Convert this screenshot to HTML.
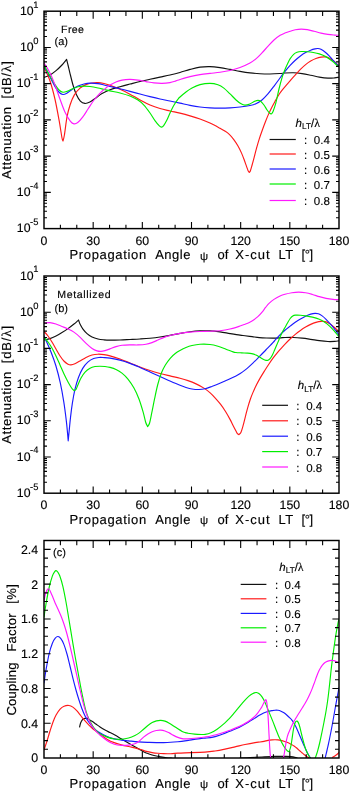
<!DOCTYPE html>
<html lang="en"><head><meta charset="utf-8"><title>Attenuation and coupling factor vs propagation angle</title>
<style>html,body{margin:0;padding:0;background:#fff}body{width:350px;height:792px;overflow:hidden}svg{display:block}text{font-family:"Liberation Sans",Arial,sans-serif;fill:#000;stroke:#000;stroke-width:0.14px;text-rendering:geometricPrecision}</style></head><body>
<svg width="350" height="792" viewBox="0 0 350 792">
<rect width="350" height="792" fill="#fff"/>
<defs>
<clipPath id="ca"><rect x="44" y="11.2" width="295" height="217.4"/></clipPath>
<clipPath id="cb"><rect x="44" y="276" width="295" height="217.2"/></clipPath>
<clipPath id="cc"><rect x="44" y="540.5" width="295" height="217.5"/></clipPath>
</defs>
<g id="plot-a">
<g clip-path="url(#ca)" fill="none" stroke-width="1.15" stroke-linejoin="round" stroke-linecap="round">
<path stroke="#111111" d="M44 77.4C45 77 47.99 76.12 50 75C52.01 73.88 54.05 72.35 56.05 70.68C58.04 69.02 60.38 66.67 61.97 64.99C63.56 63.31 64.83 61.53 65.6 60.6C66.37 59.67 66.43 59.6 66.6 59.4M66.6 59.4C66.83 60.33 67.45 62.73 68 65C68.55 67.27 69.09 69.69 69.92 73.02C70.75 76.36 71.96 81.53 72.99 85.02C74.02 88.51 74.86 91.31 76.09 93.99C77.32 96.66 78.88 99.49 80.35 101.07C81.81 102.64 83.28 103.27 84.88 103.44C86.47 103.61 88.07 102.98 89.91 102.06C91.76 101.14 93.91 99.32 95.93 97.91C97.96 96.49 99.68 94.94 102.04 93.58C104.4 92.21 107.12 90.85 110.1 89.72C113.08 88.58 116.6 87.69 119.92 86.75C123.24 85.8 126.67 84.93 130.02 84.05C133.37 83.18 136.69 82.28 140.02 81.48C143.34 80.69 146.64 80 149.97 79.28C153.31 78.55 156.69 77.83 160.02 77.11C163.36 76.39 166.67 75.75 170 74.97C173.32 74.2 176.62 73.39 179.96 72.47C183.3 71.54 186.68 70.31 190.03 69.42C193.37 68.53 196.7 67.6 200.03 67.13C203.35 66.67 206.65 66.53 209.98 66.61C213.31 66.68 216.65 67.13 219.99 67.6C223.33 68.07 226.66 68.77 230 69.4C233.33 70.03 236.67 70.82 240 71.4C243.34 71.98 246.68 72.52 250.01 72.9C253.34 73.28 256.66 73.53 259.99 73.7C263.33 73.88 266.67 73.99 270 73.95C273.33 73.91 277.48 73.65 279.98 73.48C282.49 73.32 282.75 73.1 285.02 72.98C287.29 72.85 290.76 72.65 293.61 72.75C296.45 72.85 299.24 73.17 302.09 73.58C304.93 73.99 307.82 74.62 310.69 75.21C313.57 75.79 316.45 76.59 319.32 77.08C322.18 77.57 325.33 78.02 327.9 78.16C330.46 78.3 332.93 78.04 334.7 77.9C336.47 77.76 337.87 77.4 338.5 77.3"/>
<path stroke="#ff1a1a" d="M44 67C45 69.33 48.18 75.67 50 81C51.82 86.33 53.39 92.34 54.93 99C56.46 105.66 58.03 114.45 59.21 120.95C60.38 127.45 61.37 134.66 62 138C62.63 141.34 62.83 140.5 63 141M63 141C63.23 140 63.73 139 64.4 135C65.07 131 66.07 121.98 67.01 116.98C67.95 111.99 68.86 108.66 70.06 105.02C71.26 101.38 72.56 97.95 74.22 95.14C75.88 92.33 78.05 89.9 80.01 88.15C81.96 86.4 83.95 85.48 85.94 84.62C87.94 83.76 89.97 83.32 91.98 82.98C93.99 82.65 96 82.52 98 82.61C100 82.71 101.97 83.07 103.97 83.53C105.97 84 107.32 84.44 110 85.41C112.68 86.38 116.72 87.88 120.04 89.34C123.35 90.8 126.56 92.42 129.9 94.18C133.24 95.94 136.71 98.1 140.07 99.89C143.42 101.69 146.7 103.52 150.02 104.96C153.34 106.4 156.67 107.55 160 108.55C163.33 109.55 166.68 110.19 170 110.96C173.33 111.73 176.62 112.35 179.96 113.16C183.3 113.98 186.7 114.89 190.04 115.87C193.38 116.85 196.68 117.83 200 119.03C203.32 120.23 206.59 121.54 209.95 123.09C213.3 124.64 217.65 127.01 220.13 128.33C222.61 129.65 223.3 130.01 224.83 131.01C226.35 132.01 227.82 132.92 229.29 134.3C230.75 135.68 232.19 137.39 233.62 139.29C235.05 141.19 236.55 143.46 237.85 145.72C239.16 147.99 240.38 150.49 241.44 152.87C242.51 155.25 243.42 157.76 244.27 160.01C245.11 162.26 245.87 164.58 246.51 166.36C247.15 168.14 247.64 169.69 248.1 170.7C248.56 171.71 249.1 172.12 249.3 172.4M249.3 172.4C249.48 172.12 249.93 171.93 250.4 170.7C250.87 169.47 251.46 167.27 252.1 165C252.74 162.73 253.51 159.82 254.23 157.08C254.95 154.35 255.56 151.68 256.42 148.6C257.27 145.52 258.37 141.73 259.36 138.62C260.35 135.52 261.35 132.74 262.35 129.97C263.34 127.2 264.37 124.49 265.33 122.02C266.29 119.54 267.08 117.51 268.12 115.13C269.17 112.75 270.46 110.02 271.6 107.73C272.74 105.44 273.83 103.46 274.97 101.41C276.1 99.37 277.23 97.3 278.4 95.46C279.57 93.61 279.89 92.91 281.97 90.32C284.05 87.73 288.66 82.47 290.89 79.91C293.12 77.34 293.77 76.7 295.35 74.94C296.94 73.19 298.68 71.1 300.39 69.38C302.1 67.67 303.91 66.01 305.63 64.63C307.35 63.26 308.99 62.13 310.7 61.12C312.41 60.11 314.17 59.24 315.89 58.57C317.61 57.9 319.45 57.35 321.02 57.08C322.59 56.8 323.88 56.73 325.31 56.92C326.73 57.11 328.11 57.53 329.54 58.22C330.97 58.92 332.41 59.9 333.9 61.1C335.39 62.3 337.73 64.68 338.5 65.4"/>
<path stroke="#1a1aff" d="M44 66C45 67.83 48.13 73.52 50 77C51.87 80.48 53.66 84.29 55.21 86.88C56.77 89.47 58.04 91.26 59.33 92.53C60.62 93.81 61.7 94.43 62.94 94.54C64.19 94.65 65.29 94.06 66.81 93.21C68.33 92.37 70.2 90.67 72.06 89.47C73.93 88.27 76.02 86.92 78.01 86.02C80 85.11 82.01 84.49 84.01 84.02C86.01 83.55 87.67 83.25 90 83.19C92.33 83.13 95.64 83.35 97.98 83.65C100.31 83.96 101.98 84.54 103.99 85.01C106 85.47 107.38 85.82 110.04 86.44C112.7 87.06 116.64 87.92 119.97 88.74C123.3 89.55 126.68 90.44 130.02 91.32C133.36 92.2 136.66 93.15 139.99 94.03C143.32 94.91 146.66 95.78 150 96.6C153.34 97.42 156.68 98.23 160.01 98.96C163.34 99.69 166.67 100.31 170 101C173.33 101.69 176.64 102.39 179.98 103.11C183.31 103.83 186.68 104.67 190.02 105.32C193.36 105.96 196.67 106.55 200 106.97C203.33 107.39 206.66 107.66 210 107.86C213.33 108.05 216.67 108.14 220 108.14C223.33 108.14 226.67 108.05 230 107.86C233.34 107.66 236.66 107.36 240 106.96C243.33 106.56 247.37 106 250.02 105.46C252.67 104.92 253.91 104.64 255.9 103.72C257.89 102.81 259.97 101.61 261.97 99.98C263.98 98.34 265.89 96.26 267.91 93.94C269.92 91.62 272.06 88.72 274.07 86.06C276.09 83.41 278.16 80.43 279.99 77.99C281.81 75.55 283.34 73.51 285.03 71.42C286.72 69.32 288.41 67.28 290.12 65.42C291.83 63.57 293.57 61.85 295.28 60.28C297 58.72 298.7 57.3 300.42 56.02C302.14 54.74 303.89 53.59 305.6 52.62C307.32 51.65 309.12 50.82 310.69 50.2C312.26 49.57 313.8 49.15 315.01 48.87C316.22 48.59 316.95 48.45 317.93 48.53C318.92 48.61 319.7 48.72 320.92 49.33C322.15 49.94 323.85 51.04 325.29 52.2C326.73 53.37 328.13 54.84 329.56 56.33C331 57.81 332.41 59.5 333.9 61.1C335.39 62.7 337.73 65.1 338.5 65.9"/>
<path stroke="#00ee00" d="M44 65C45 66.83 48.14 72.68 50 76C51.86 79.32 53.59 82.54 55.14 84.91C56.69 87.28 57.99 88.99 59.29 90.21C60.58 91.43 61.66 92.01 62.94 92.2C64.21 92.4 65.42 91.92 66.93 91.37C68.44 90.83 70.14 89.7 72 88.92C73.85 88.15 76.05 87.19 78.05 86.71C80.04 86.24 81.99 86.09 83.98 86.06C85.97 86.04 87.66 86.23 90 86.55C92.33 86.88 95.67 87.52 98 88C100.33 88.48 101.98 88.98 103.99 89.45C105.99 89.92 107.37 90.23 110.04 90.82C112.72 91.41 116.7 92.12 120.02 92.99C123.35 93.86 127 94.87 129.99 96.05C132.98 97.23 135.64 98.56 137.96 100.07C140.28 101.57 141.89 102.92 143.9 105.07C145.91 107.22 148.14 110.32 150.02 112.96C151.89 115.59 153.59 118.73 155.15 120.9C156.7 123.07 158.27 124.93 159.34 125.96C160.41 126.99 160.84 127.14 161.55 127.08C162.27 127.01 162.74 126.76 163.64 125.57C164.53 124.39 165.84 122.06 166.91 119.96C167.97 117.87 168.82 115.49 170.01 113C171.2 110.51 172.7 107.35 174.05 105.03C175.39 102.71 177.09 100.42 178.08 99.08C179.07 97.74 178.69 98.19 180.01 97C181.32 95.81 183.98 93.44 185.98 91.93C187.98 90.43 189.69 89.18 192.03 87.96C194.38 86.75 197.05 85.4 200.04 84.63C203.03 83.86 207.01 83.33 209.99 83.35C212.97 83.37 215.61 83.97 217.92 84.76C220.23 85.55 221.84 86.56 223.87 88.09C225.89 89.61 228.03 91.94 230.06 93.91C232.09 95.89 234.22 98.3 236.06 99.95C237.9 101.6 239.62 102.95 241.11 103.82C242.6 104.69 243.52 105.12 244.98 105.15C246.44 105.17 248.35 104.57 249.88 103.97C251.4 103.37 252.78 102.16 254.13 101.55C255.49 100.94 256.88 100.33 258 100.32C259.13 100.32 259.88 100.72 260.87 101.5C261.86 102.28 262.91 103.59 263.95 105C264.98 106.41 266.11 108.57 267.09 109.96C268.06 111.34 269.04 112.67 269.78 113.29C270.53 113.92 271 113.99 271.55 113.69C272.09 113.39 272.33 113.29 273.05 111.5C273.77 109.72 274.87 106.72 275.86 102.97C276.85 99.21 277.95 93.31 279 88.99C280.06 84.68 281.22 80.29 282.2 77.07C283.18 73.85 284 71.9 284.9 69.67C285.79 67.44 286.7 65.52 287.58 63.68C288.46 61.84 289.17 60.19 290.19 58.64C291.2 57.08 292.5 55.41 293.64 54.36C294.79 53.3 295.76 52.81 297.04 52.33C298.31 51.86 299.58 51.63 301.29 51.53C303 51.42 305.29 51.54 307.29 51.7C309.3 51.87 311.31 52.16 313.32 52.53C315.32 52.9 317.32 53.28 319.31 53.92C321.3 54.56 323.4 55.4 325.25 56.37C327.1 57.33 328.86 58.59 330.43 59.73C332.01 60.87 333.36 62.05 334.7 63.2C336.04 64.35 337.87 66.03 338.5 66.6"/>
<path stroke="#ff19ff" d="M44 63C45 64.67 48.17 69.33 50 73C51.83 76.67 53.34 80.65 54.99 84.99C56.65 89.33 58.23 94.38 59.95 99.03C61.66 103.68 63.53 109.16 65.29 112.87C67.04 116.58 69.02 119.48 70.47 121.3C71.92 123.13 72.77 123.63 73.99 123.84C75.2 124.05 76.27 123.71 77.74 122.56C79.22 121.41 81.14 119.17 82.85 116.91C84.56 114.65 86.15 111.82 88.01 109C89.88 106.19 92.04 102.67 94.04 100.02C96.05 97.37 98.07 95.09 100.05 93.08C102.03 91.06 104.27 89.27 105.93 87.93C107.6 86.6 108.38 86.07 110.05 85.07C111.73 84.07 114 82.76 116 81.93C117.99 81.1 119.7 80.51 122.03 80.1C124.37 79.68 127.33 79.42 129.98 79.44C132.64 79.45 135.32 79.82 137.99 80.19C140.66 80.55 143.33 81.17 146 81.63C148.67 82.09 151.35 82.65 154.02 82.94C156.68 83.24 159.34 83.45 162 83.39C164.66 83.33 167.65 82.99 169.98 82.58C172.31 82.16 174.29 81.43 175.96 80.91C177.64 80.39 177.69 80.18 180.03 79.46C182.37 78.74 186.67 77.39 190 76.59C193.33 75.79 196.67 75.19 200 74.66C203.34 74.12 206.66 73.77 209.99 73.37C213.33 72.97 216.69 72.74 220.02 72.25C223.35 71.77 226.65 71.28 229.98 70.48C233.32 69.69 236.69 68.74 240.02 67.48C243.36 66.23 247.31 64.36 249.96 62.93C252.61 61.51 253.92 60.58 255.92 58.92C257.92 57.26 259.93 55.12 261.95 52.98C263.98 50.83 266.07 48.23 268.07 46.06C270.08 43.89 271.96 41.74 273.98 39.95C275.99 38.16 278.35 36.47 280.16 35.33C281.97 34.18 283.19 33.77 284.85 33.08C286.52 32.4 288.41 31.77 290.15 31.22C291.89 30.66 293.44 30.1 295.3 29.75C297.16 29.41 299.31 29.16 301.31 29.15C303.31 29.14 305.15 29.31 307.28 29.67C309.41 30.03 311.8 30.73 314.09 31.31C316.38 31.89 318.72 32.61 321.02 33.13C323.32 33.64 325.61 34.09 327.89 34.42C330.17 34.75 332.93 34.95 334.7 35.1C336.47 35.25 337.87 35.27 338.5 35.3"/>
</g>
<rect x="44" y="11.2" width="295" height="217.4" fill="none" stroke="#000" stroke-width="1.45"/><path d="M60.39 11.2v4.7M60.39 228.6v-3.8M76.78 11.2v4.7M76.78 228.6v-3.8M93.17 11.2v7.6M93.17 228.6v-6.7M109.56 11.2v4.7M109.56 228.6v-3.8M125.94 11.2v4.7M125.94 228.6v-3.8M142.33 11.2v7.6M142.33 228.6v-6.7M158.72 11.2v4.7M158.72 228.6v-3.8M175.11 11.2v4.7M175.11 228.6v-3.8M191.5 11.2v7.6M191.5 228.6v-6.7M207.89 11.2v4.7M207.89 228.6v-3.8M224.28 11.2v4.7M224.28 228.6v-3.8M240.67 11.2v7.6M240.67 228.6v-6.7M257.06 11.2v4.7M257.06 228.6v-3.8M273.44 11.2v4.7M273.44 228.6v-3.8M289.83 11.2v7.6M289.83 228.6v-6.7M306.22 11.2v4.7M306.22 228.6v-3.8M322.61 11.2v4.7M322.61 228.6v-3.8M44 36.53h3.0M339 36.53h-3.0M44 30.15h3.0M339 30.15h-3.0M44 25.62h3.0M339 25.62h-3.0M44 22.11h3.0M339 22.11h-3.0M44 19.24h3.0M339 19.24h-3.0M44 16.81h3.0M339 16.81h-3.0M44 14.71h3.0M339 14.71h-3.0M44 12.86h3.0M339 12.86h-3.0M44 47.43h6.8M339 47.43h-6.8M44 72.76h3.0M339 72.76h-3.0M44 66.38h3.0M339 66.38h-3.0M44 61.85h3.0M339 61.85h-3.0M44 58.34h3.0M339 58.34h-3.0M44 55.47h3.0M339 55.47h-3.0M44 53.05h3.0M339 53.05h-3.0M44 50.94h3.0M339 50.94h-3.0M44 49.09h3.0M339 49.09h-3.0M44 83.67h6.8M339 83.67h-6.8M44 108.99h3.0M339 108.99h-3.0M44 102.61h3.0M339 102.61h-3.0M44 98.09h3.0M339 98.09h-3.0M44 94.57h3.0M339 94.57h-3.0M44 91.7h3.0M339 91.7h-3.0M44 89.28h3.0M339 89.28h-3.0M44 87.18h3.0M339 87.18h-3.0M44 85.32h3.0M339 85.32h-3.0M44 119.9h6.8M339 119.9h-6.8M44 145.23h3.0M339 145.23h-3.0M44 138.85h3.0M339 138.85h-3.0M44 134.32h3.0M339 134.32h-3.0M44 130.81h3.0M339 130.81h-3.0M44 127.94h3.0M339 127.94h-3.0M44 125.51h3.0M339 125.51h-3.0M44 123.41h3.0M339 123.41h-3.0M44 121.56h3.0M339 121.56h-3.0M44 156.13h6.8M339 156.13h-6.8M44 181.46h3.0M339 181.46h-3.0M44 175.08h3.0M339 175.08h-3.0M44 170.55h3.0M339 170.55h-3.0M44 167.04h3.0M339 167.04h-3.0M44 164.17h3.0M339 164.17h-3.0M44 161.75h3.0M339 161.75h-3.0M44 159.64h3.0M339 159.64h-3.0M44 157.79h3.0M339 157.79h-3.0M44 192.37h6.8M339 192.37h-6.8M44 217.69h3.0M339 217.69h-3.0M44 211.31h3.0M339 211.31h-3.0M44 206.79h3.0M339 206.79h-3.0M44 203.27h3.0M339 203.27h-3.0M44 200.4h3.0M339 200.4h-3.0M44 197.98h3.0M339 197.98h-3.0M44 195.88h3.0M339 195.88h-3.0M44 194.02h3.0M339 194.02h-3.0" stroke="#000" stroke-width="1.1" fill="none"/>
<text x="38.4" y="14.7" font-size="12.3" text-anchor="end">10<tspan font-size="9.4" dx="-0.5" dy="-7.2">1</tspan></text>
<text x="38.4" y="50.93" font-size="12.3" text-anchor="end">10<tspan font-size="9.4" dx="-0.5" dy="-7.2">0</tspan></text>
<text x="38.4" y="87.17" font-size="12.3" text-anchor="end">10<tspan font-size="9.4" dx="-0.5" dy="-7.2">-1</tspan></text>
<text x="38.4" y="123.4" font-size="12.3" text-anchor="end">10<tspan font-size="9.4" dx="-0.5" dy="-7.2">-2</tspan></text>
<text x="38.4" y="159.63" font-size="12.3" text-anchor="end">10<tspan font-size="9.4" dx="-0.5" dy="-7.2">-3</tspan></text>
<text x="38.4" y="195.87" font-size="12.3" text-anchor="end">10<tspan font-size="9.4" dx="-0.5" dy="-7.2">-4</tspan></text>
<text x="38.4" y="232.1" font-size="12.3" text-anchor="end">10<tspan font-size="9.4" dx="-0.5" dy="-7.2">-5</tspan></text>
<text x="44" y="244.8" font-size="12.3" text-anchor="middle">0</text>
<text x="93.17" y="244.8" font-size="12.3" text-anchor="middle">30</text>
<text x="142.33" y="244.8" font-size="12.3" text-anchor="middle">60</text>
<text x="191.5" y="244.8" font-size="12.3" text-anchor="middle">90</text>
<text x="240.67" y="244.8" font-size="12.3" text-anchor="middle">120</text>
<text x="289.83" y="244.8" font-size="12.3" text-anchor="middle">150</text>
<text x="339" y="244.8" font-size="12.3" text-anchor="middle">180</text>
<text x="69.4" y="259.2" font-size="13" textLength="76.8" lengthAdjust="spacing">Propagation</text>
<text x="155.2" y="259.2" font-size="13" textLength="35.2" lengthAdjust="spacing">Angle</text>
<text x="217.6" y="259.2" font-size="13" textLength="10.8" lengthAdjust="spacing">of</text>
<text x="235.2" y="259.2" font-size="13" textLength="34.4" lengthAdjust="spacing">X-cut</text>
<text x="278.4" y="259.2" font-size="13" textLength="14.8" lengthAdjust="spacing">LT</text>
<text x="301.6" y="259.2" font-size="13" textLength="11.4" lengthAdjust="spacing">[°]</text>
<text x="199.9" y="259.8" font-size="11.4" stroke="none" font-family="'Liberation Serif','DejaVu Serif',serif">ψ</text>
<text transform="translate(11.4 179) rotate(-90)" font-size="13" textLength="72" lengthAdjust="spacing">Attenuation</text><text transform="translate(11.4 98.4) rotate(-90)" font-size="13" textLength="37.4" lengthAdjust="spacing">[dB/<tspan font-family="'Liberation Serif','DejaVu Serif',serif" font-size="13.5">λ</tspan>]</text>
<text x="61" y="33.2" font-size="10.6" textLength="23" lengthAdjust="spacing">Free</text>
<text x="54.6" y="45.1" font-size="11">(a)</text>
<path d="M269.6 139.5H295.8" stroke="#111111" stroke-width="1.2" fill="none"/>
<text x="304" y="144" font-size="11.5">:</text>
<text x="313.8" y="144" font-size="11.5">0.4</text>
<path d="M269.6 154H295.8" stroke="#ff1a1a" stroke-width="1.2" fill="none"/>
<text x="304" y="158.5" font-size="11.5">:</text>
<text x="313.8" y="158.5" font-size="11.5">0.5</text>
<path d="M269.6 169H295.8" stroke="#1a1aff" stroke-width="1.2" fill="none"/>
<text x="304" y="173.5" font-size="11.5">:</text>
<text x="313.8" y="173.5" font-size="11.5">0.6</text>
<path d="M269.6 184H295.8" stroke="#00ee00" stroke-width="1.2" fill="none"/>
<text x="304" y="188.5" font-size="11.5">:</text>
<text x="313.8" y="188.5" font-size="11.5">0.7</text>
<path d="M269.6 200.5H295.8" stroke="#ff19ff" stroke-width="1.2" fill="none"/>
<text x="304" y="205" font-size="11.5">:</text>
<text x="313.8" y="205" font-size="11.5">0.8</text>
<text x="295.6" y="126.6" font-size="11.5"><tspan font-style="italic">h</tspan><tspan font-size="8.2" dy="2.4">LT</tspan><tspan dy="-2.4">/</tspan><tspan font-size="12" font-family="'Liberation Serif','DejaVu Serif',serif">λ</tspan></text>
</g>
<g id="plot-b">
<g clip-path="url(#cb)" fill="none" stroke-width="1.15" stroke-linejoin="round" stroke-linecap="round">
<path stroke="#111111" d="M44 340C45 339.77 48 339.27 50 338.6C52 337.93 54 337.01 56 336.01C58 335.01 60 333.84 62 332.61C64 331.37 66 330.04 68 328.6C70 327.17 72.34 325.34 74 324.01C75.67 322.68 77.23 321.23 78 320.6C78.77 319.97 78.5 320.27 78.6 320.2M78.6 320.2C78.83 320.83 79.27 322.53 80 324C80.73 325.47 81.8 327.45 82.97 329.05C84.14 330.65 85.53 332.27 87.04 333.59C88.54 334.91 90.19 336.05 92.01 336.95C93.84 337.85 95.98 338.5 97.98 338.98C99.98 339.46 101.99 339.63 104 339.83C106 340.02 107.34 340.11 110 340.14C112.67 340.16 116.66 340.07 120 339.96C123.33 339.85 126.67 339.65 130 339.49C133.34 339.32 136.67 339.17 140 338.96C143.33 338.74 146.67 338.53 150 338.2C153.33 337.87 156.67 337.48 160 337C163.33 336.52 166.65 335.94 169.99 335.34C173.32 334.75 176.67 334.03 180.01 333.44C183.35 332.85 186.67 332.22 190 331.79C193.34 331.35 196.67 330.99 200.01 330.83C203.34 330.67 206.67 330.65 210 330.82C213.33 330.99 216.65 331.39 219.99 331.84C223.32 332.3 226.67 333 230.01 333.56C233.35 334.11 237.53 334.8 240.02 335.16C242.52 335.52 242.95 335.46 244.97 335.71C246.99 335.96 249.77 336.34 252.15 336.64C254.54 336.95 256.91 337.33 259.29 337.56C261.67 337.79 264.05 337.91 266.43 338.01C268.81 338.11 271.2 338.2 273.57 338.17C275.95 338.14 278.79 337.93 280.7 337.82C282.6 337.71 282.87 337.55 285.02 337.49C287.17 337.43 290.76 337.34 293.6 337.45C296.45 337.56 299.25 337.83 302.09 338.14C304.94 338.45 307.83 338.9 310.7 339.32C313.56 339.74 316.44 340.31 319.31 340.68C322.18 341.04 325.33 341.39 327.9 341.51C330.46 341.63 332.93 341.5 334.7 341.4C336.47 341.3 337.87 340.98 338.5 340.9"/>
<path stroke="#ff1a1a" d="M44 331.4C44.67 332.17 46.67 334.23 48 336C49.33 337.77 50.64 339.84 51.97 342.01C53.3 344.18 54.64 346.68 55.98 349.01C57.33 351.34 58.7 353.94 60.05 355.98C61.41 358.02 62.79 359.89 64.12 361.26C65.45 362.63 66.89 363.61 68.04 364.21C69.18 364.81 69.86 364.94 71 364.87C72.15 364.8 73.41 364.43 74.9 363.78C76.4 363.13 78.12 362.03 79.98 360.97C81.83 359.9 84.03 358.4 86.03 357.41C88.04 356.43 90.03 355.61 92.02 355.07C94.01 354.54 95.99 354.29 97.98 354.21C99.98 354.14 102 354.36 104 354.63C106 354.91 107.32 355.13 109.99 355.87C112.65 356.61 116.64 357.87 119.98 359.06C123.31 360.24 126.67 361.65 130.01 362.97C133.35 364.3 136.67 365.74 140 367C143.34 368.26 146.69 369.46 150.02 370.53C153.35 371.61 156.65 372.55 159.98 373.45C163.32 374.35 166.69 375.12 170.02 375.92C173.35 376.73 176.99 377.49 179.98 378.28C182.98 379.07 185.3 379.72 187.98 380.66C190.66 381.59 193.4 382.65 196.06 383.89C198.72 385.14 201.57 386.64 203.92 388.13C206.27 389.63 208.27 391.21 210.16 392.87C212.05 394.52 213.56 396.17 215.28 398.06C217 399.95 218.75 401.98 220.46 404.21C222.17 406.44 223.95 408.97 225.52 411.46C227.09 413.94 228.59 416.7 229.89 419.12C231.19 421.54 232.28 423.94 233.32 425.98C234.36 428.02 235.44 430.08 236.12 431.35C236.81 432.61 236.97 433.03 237.43 433.57C237.88 434.11 238.62 434.4 238.86 434.57M238.86 434.57C239.21 434.17 240.3 433.62 241 432.14C241.7 430.66 242.37 428.2 243.08 425.7C243.79 423.2 244.54 419.99 245.27 417.14C246 414.28 246.6 411.55 247.45 408.57C248.29 405.6 249.38 402.04 250.32 399.3C251.27 396.56 252.03 394.63 253.11 392.13C254.18 389.63 255.56 386.69 256.76 384.31C257.95 381.93 258.95 380.1 260.25 377.84C261.56 375.58 263.18 373 264.6 370.73C266.02 368.47 267.36 366.38 268.8 364.24C270.23 362.11 271.77 359.85 273.2 357.9C274.64 355.96 276.01 354.25 277.42 352.57C278.83 350.89 280.4 349.22 281.66 347.81C282.93 346.4 283.62 345.59 285.03 344.12C286.43 342.65 288.39 340.62 290.1 339C291.81 337.37 293.57 335.82 295.29 334.39C297.01 332.96 298.69 331.64 300.41 330.41C302.12 329.18 303.89 328.02 305.61 327.01C307.32 326.01 308.98 325.15 310.69 324.38C312.41 323.62 314.19 322.91 315.91 322.4C317.63 321.89 319.46 321.45 321.02 321.32C322.58 321.2 323.84 321.26 325.26 321.64C326.69 322.03 328.12 322.74 329.56 323.63C331 324.52 332.41 325.72 333.9 327C335.39 328.28 337.73 330.58 338.5 331.3"/>
<path stroke="#1a1aff" d="M44 336C44.33 336.75 44.83 337.84 46 340.5C47.17 343.16 49.35 347.77 51 351.98C52.64 356.19 54.33 360.59 55.88 365.75C57.43 370.9 58.99 376.9 60.3 382.89C61.61 388.88 62.75 395.4 63.74 401.69C64.74 407.97 65.67 415.45 66.29 420.6C66.92 425.75 67.18 429.23 67.5 432.6C67.82 435.97 68.08 439.43 68.2 440.8M68.2 440.8C68.33 439.43 68.61 436.55 69 432.6C69.39 428.65 69.99 421.96 70.54 417.09C71.1 412.22 71.61 407.97 72.34 403.4C73.06 398.84 73.89 393.97 74.89 389.69C75.9 385.41 77.07 381.28 78.37 377.72C79.67 374.17 81.13 370.98 82.71 368.37C84.28 365.77 85.98 363.73 87.8 362.09C89.62 360.46 91.79 359.34 93.64 358.57C95.48 357.81 97.14 357.66 98.87 357.49C100.59 357.32 102.14 357.46 104 357.56C105.86 357.67 107.36 357.7 110.03 358.13C112.69 358.55 116.64 359.26 119.97 360.12C123.3 360.99 126.68 362.12 130.01 363.34C133.35 364.55 136.65 366 139.98 367.44C143.31 368.88 146.67 370.45 150.01 371.98C153.35 373.5 156.68 375.07 160.01 376.58C163.34 378.09 166.65 379.58 169.98 381.04C173.32 382.5 177.36 384.25 180.03 385.33C182.7 386.41 184.02 386.92 186.02 387.54C188.02 388.15 189.84 388.69 192.01 389.03C194.17 389.36 196.84 389.59 199.01 389.54C201.17 389.5 202.84 389.27 204.98 388.75C207.11 388.24 209.52 387.29 211.81 386.45C214.11 385.62 214.72 385.49 218.75 383.74C222.78 381.99 232.39 377.64 235.97 375.93C239.55 374.22 238.78 374.41 240.22 373.48C241.66 372.55 243.17 371.45 244.61 370.34C246.04 369.23 247.41 368.07 248.83 366.83C250.25 365.58 251.71 364.23 253.14 362.86C254.58 361.49 256.03 360.03 257.45 358.59C258.87 357.16 260.25 355.73 261.68 354.26C263.11 352.78 264.59 351.21 266.03 349.74C267.47 348.28 268.92 346.92 270.32 345.46C271.72 344 272.88 342.66 274.41 340.99C275.93 339.32 277.7 337.22 279.45 335.44C281.2 333.66 283.12 331.85 284.9 330.3C286.68 328.75 288.42 327.48 290.14 326.16C291.87 324.83 293.54 323.54 295.26 322.34C296.97 321.14 298.72 319.99 300.44 318.96C302.16 317.93 303.87 316.95 305.58 316.16C307.29 315.36 309.15 314.64 310.72 314.17C312.29 313.7 313.73 313.41 315 313.34C316.28 313.27 317.23 313.36 318.37 313.74C319.51 314.12 320.55 314.68 321.83 315.62C323.11 316.55 324.47 317.73 326.05 319.34C327.64 320.94 329.77 323.4 331.36 325.24C332.95 327.09 334.41 328.87 335.6 330.4C336.79 331.93 338.02 333.73 338.5 334.4"/>
<path stroke="#00ee00" d="M44 337.4C44.67 338.17 46.68 340.23 48 342C49.32 343.77 50.6 345.71 51.93 348.04C53.26 350.37 54.65 353.17 55.99 356C57.34 358.82 58.66 362 60 365C61.34 368 62.69 371.16 64.03 373.99C65.36 376.82 66.77 379.64 68.03 381.98C69.3 384.31 70.61 386.56 71.6 388C72.59 389.44 73.6 390.17 74 390.6M74 390.6C74.33 390.4 75.36 390.35 76 389.4C76.64 388.45 77.02 386.83 77.85 384.92C78.68 383.01 79.81 380.1 81.01 377.95C82.21 375.81 83.56 373.68 85.06 372.05C86.56 370.41 88.37 369.07 90.02 368.15C91.67 367.24 93.28 366.86 94.94 366.54C96.6 366.22 98.31 366.22 99.99 366.22C101.67 366.22 103.34 366.35 105.01 366.55C106.68 366.74 108.19 366.93 110.02 367.41C111.86 367.89 114.03 368.48 116.02 369.43C118.01 370.38 119.97 371.49 121.96 373.1C123.95 374.7 125.96 376.57 127.96 379.05C129.96 381.54 132.13 384.7 133.97 388.03C135.8 391.35 137.45 395 138.97 398.99C140.49 402.98 141.98 408.13 143.08 411.96C144.19 415.8 144.85 419.56 145.6 422C146.35 424.44 147.27 425.83 147.6 426.6M147.6 426.6C147.93 426 148.91 425.27 149.6 423C150.29 420.73 150.92 416.99 151.74 412.99C152.57 408.99 153.56 403.65 154.55 398.98C155.53 394.32 156.5 389.32 157.64 385C158.78 380.68 160.1 376.42 161.39 373.08C162.67 369.75 163.85 367.51 165.36 365C166.86 362.49 168.78 359.95 170.43 358.04C172.08 356.12 173.68 354.77 175.26 353.51C176.84 352.25 178.13 351.49 179.93 350.48C181.72 349.46 184.01 348.25 186.03 347.42C188.05 346.59 189.7 346.02 192.03 345.5C194.36 344.97 197.02 344.45 200.01 344.29C203.01 344.12 207 344.17 209.99 344.49C212.99 344.82 215.28 345.44 217.96 346.23C220.63 347.02 223.54 348.31 226.05 349.25C228.56 350.18 231.38 351.31 233.04 351.85C234.7 352.39 234.56 352.34 236 352.51C237.45 352.68 239.81 352.76 241.71 352.87C243.62 352.97 245.77 353 247.44 353.13C249.1 353.26 250.28 353.34 251.7 353.66C253.12 353.98 254.64 354.48 255.96 355.05C257.27 355.62 258.39 356.39 259.6 357.09C260.8 357.79 262.1 358.69 263.18 359.23C264.25 359.77 265.2 360.16 266.02 360.33C266.85 360.5 267.45 360.53 268.13 360.26C268.81 359.98 269.4 359.56 270.12 358.68C270.83 357.81 271.65 356.44 272.39 354.99C273.14 353.55 273.88 351.68 274.6 350.02C275.32 348.35 276.06 346.55 276.72 345C277.38 343.45 277.91 342.27 278.57 340.71C279.22 339.16 279.91 337.33 280.66 335.68C281.41 334.04 282.36 332.15 283.05 330.83C283.74 329.51 284.05 329.14 284.81 327.79C285.57 326.43 286.71 324.24 287.61 322.69C288.51 321.14 289.36 319.6 290.21 318.49C291.07 317.37 291.91 316.56 292.76 316C293.62 315.45 294.05 315.3 295.32 315.17C296.6 315.04 298.68 315.1 300.4 315.22C302.11 315.33 303.61 315.54 305.61 315.86C307.61 316.19 310.14 316.6 312.42 317.18C314.7 317.76 317.3 318.54 319.29 319.33C321.29 320.13 322.65 320.83 324.36 321.96C326.08 323.08 327.86 324.49 329.58 326.1C331.31 327.71 333.21 329.93 334.7 331.6C336.19 333.27 337.87 335.35 338.5 336.1"/>
<path stroke="#ff19ff" d="M44 323C45 322.93 48.01 322.43 50 322.6C51.99 322.77 53.94 323.4 55.95 324.05C57.96 324.69 60.04 325.64 62.05 326.46C64.07 327.29 66.05 328.03 68.03 328.98C70.01 329.92 71.95 330.78 73.93 332.13C75.91 333.47 77.89 335.2 79.91 337.06C81.94 338.93 84.06 341.43 86.09 343.33C88.12 345.23 90.28 347.19 92.09 348.44C93.91 349.69 95.52 350.37 97 350.85C98.48 351.33 99.64 351.37 100.97 351.33C102.3 351.29 103.49 351 104.99 350.59C106.49 350.18 108.12 349.54 109.96 348.88C111.8 348.22 114.03 347.24 116.03 346.65C118.04 346.05 119.68 345.58 122.01 345.29C124.34 345 127.33 344.94 129.99 344.88C132.66 344.82 135.35 345.03 138.01 344.93C140.68 344.83 143.65 344.67 145.97 344.28C148.3 343.89 149.98 343.32 151.98 342.61C153.99 341.9 156 340.88 158 340.01C160.01 339.15 162.01 338.17 164.01 337.41C166.02 336.65 167.36 336.14 170.02 335.47C172.69 334.8 176.67 333.97 180 333.41C183.33 332.86 186.66 332.48 189.99 332.16C193.33 331.83 196.67 331.63 200 331.47C203.34 331.32 206.68 331.36 210.01 331.23C213.34 331.1 216.67 331.06 220 330.7C223.33 330.33 226.65 329.79 229.99 329.02C233.32 328.25 237.51 326.86 240.01 326.06C242.51 325.27 243.44 324.85 244.98 324.24C246.53 323.63 247.86 323.13 249.29 322.42C250.72 321.72 252.15 320.95 253.58 319.99C255 319.04 256.43 318.01 257.84 316.69C259.26 315.38 260.76 313.69 262.08 312.11C263.41 310.52 264.62 308.63 265.78 307.19C266.94 305.74 267.67 304.73 269.04 303.43C270.41 302.12 272.15 300.59 273.98 299.36C275.81 298.14 278.2 296.93 280.03 296.09C281.86 295.24 282.99 294.86 284.97 294.31C286.95 293.75 289.63 293.09 291.92 292.74C294.21 292.39 296.42 292.18 298.7 292.18C300.98 292.18 303.3 292.39 305.58 292.77C307.86 293.14 310.09 293.78 312.38 294.43C314.67 295.07 317.04 295.98 319.32 296.64C321.61 297.3 323.82 297.92 326.1 298.38C328.38 298.84 330.93 299.18 333 299.4C335.07 299.62 337.58 299.65 338.5 299.7"/>
</g>
<rect x="44" y="276" width="295" height="217.2" fill="none" stroke="#000" stroke-width="1.45"/><path d="M60.39 276v4.7M60.39 493.2v-3.8M76.78 276v4.7M76.78 493.2v-3.8M93.17 276v7.6M93.17 493.2v-6.7M109.56 276v4.7M109.56 493.2v-3.8M125.94 276v4.7M125.94 493.2v-3.8M142.33 276v7.6M142.33 493.2v-6.7M158.72 276v4.7M158.72 493.2v-3.8M175.11 276v4.7M175.11 493.2v-3.8M191.5 276v7.6M191.5 493.2v-6.7M207.89 276v4.7M207.89 493.2v-3.8M224.28 276v4.7M224.28 493.2v-3.8M240.67 276v7.6M240.67 493.2v-6.7M257.06 276v4.7M257.06 493.2v-3.8M273.44 276v4.7M273.44 493.2v-3.8M289.83 276v7.6M289.83 493.2v-6.7M306.22 276v4.7M306.22 493.2v-3.8M322.61 276v4.7M322.61 493.2v-3.8M44 301.3h3.0M339 301.3h-3.0M44 294.93h3.0M339 294.93h-3.0M44 290.41h3.0M339 290.41h-3.0M44 286.9h3.0M339 286.9h-3.0M44 284.03h3.0M339 284.03h-3.0M44 281.61h3.0M339 281.61h-3.0M44 279.51h3.0M339 279.51h-3.0M44 277.66h3.0M339 277.66h-3.0M44 312.2h6.8M339 312.2h-6.8M44 337.5h3.0M339 337.5h-3.0M44 331.13h3.0M339 331.13h-3.0M44 326.61h3.0M339 326.61h-3.0M44 323.1h3.0M339 323.1h-3.0M44 320.23h3.0M339 320.23h-3.0M44 317.81h3.0M339 317.81h-3.0M44 315.71h3.0M339 315.71h-3.0M44 313.86h3.0M339 313.86h-3.0M44 348.4h6.8M339 348.4h-6.8M44 373.7h3.0M339 373.7h-3.0M44 367.33h3.0M339 367.33h-3.0M44 362.81h3.0M339 362.81h-3.0M44 359.3h3.0M339 359.3h-3.0M44 356.43h3.0M339 356.43h-3.0M44 354.01h3.0M339 354.01h-3.0M44 351.91h3.0M339 351.91h-3.0M44 350.06h3.0M339 350.06h-3.0M44 384.6h6.8M339 384.6h-6.8M44 409.9h3.0M339 409.9h-3.0M44 403.53h3.0M339 403.53h-3.0M44 399.01h3.0M339 399.01h-3.0M44 395.5h3.0M339 395.5h-3.0M44 392.63h3.0M339 392.63h-3.0M44 390.21h3.0M339 390.21h-3.0M44 388.11h3.0M339 388.11h-3.0M44 386.26h3.0M339 386.26h-3.0M44 420.8h6.8M339 420.8h-6.8M44 446.1h3.0M339 446.1h-3.0M44 439.73h3.0M339 439.73h-3.0M44 435.21h3.0M339 435.21h-3.0M44 431.7h3.0M339 431.7h-3.0M44 428.83h3.0M339 428.83h-3.0M44 426.41h3.0M339 426.41h-3.0M44 424.31h3.0M339 424.31h-3.0M44 422.46h3.0M339 422.46h-3.0M44 457h6.8M339 457h-6.8M44 482.3h3.0M339 482.3h-3.0M44 475.93h3.0M339 475.93h-3.0M44 471.41h3.0M339 471.41h-3.0M44 467.9h3.0M339 467.9h-3.0M44 465.03h3.0M339 465.03h-3.0M44 462.61h3.0M339 462.61h-3.0M44 460.51h3.0M339 460.51h-3.0M44 458.66h3.0M339 458.66h-3.0" stroke="#000" stroke-width="1.1" fill="none"/>
<text x="38.4" y="279.5" font-size="12.3" text-anchor="end">10<tspan font-size="9.4" dx="-0.5" dy="-7.2">1</tspan></text>
<text x="38.4" y="315.7" font-size="12.3" text-anchor="end">10<tspan font-size="9.4" dx="-0.5" dy="-7.2">0</tspan></text>
<text x="38.4" y="351.9" font-size="12.3" text-anchor="end">10<tspan font-size="9.4" dx="-0.5" dy="-7.2">-1</tspan></text>
<text x="38.4" y="388.1" font-size="12.3" text-anchor="end">10<tspan font-size="9.4" dx="-0.5" dy="-7.2">-2</tspan></text>
<text x="38.4" y="424.3" font-size="12.3" text-anchor="end">10<tspan font-size="9.4" dx="-0.5" dy="-7.2">-3</tspan></text>
<text x="38.4" y="460.5" font-size="12.3" text-anchor="end">10<tspan font-size="9.4" dx="-0.5" dy="-7.2">-4</tspan></text>
<text x="38.4" y="496.7" font-size="12.3" text-anchor="end">10<tspan font-size="9.4" dx="-0.5" dy="-7.2">-5</tspan></text>
<text x="44" y="509.4" font-size="12.3" text-anchor="middle">0</text>
<text x="93.17" y="509.4" font-size="12.3" text-anchor="middle">30</text>
<text x="142.33" y="509.4" font-size="12.3" text-anchor="middle">60</text>
<text x="191.5" y="509.4" font-size="12.3" text-anchor="middle">90</text>
<text x="240.67" y="509.4" font-size="12.3" text-anchor="middle">120</text>
<text x="289.83" y="509.4" font-size="12.3" text-anchor="middle">150</text>
<text x="339" y="509.4" font-size="12.3" text-anchor="middle">180</text>
<text x="69.4" y="523.5" font-size="13" textLength="76.8" lengthAdjust="spacing">Propagation</text>
<text x="155.2" y="523.5" font-size="13" textLength="35.2" lengthAdjust="spacing">Angle</text>
<text x="217.6" y="523.5" font-size="13" textLength="10.8" lengthAdjust="spacing">of</text>
<text x="235.2" y="523.5" font-size="13" textLength="34.4" lengthAdjust="spacing">X-cut</text>
<text x="278.4" y="523.5" font-size="13" textLength="14.8" lengthAdjust="spacing">LT</text>
<text x="301.6" y="523.5" font-size="13" textLength="11.4" lengthAdjust="spacing">[°]</text>
<text x="199.9" y="524.1" font-size="11.4" stroke="none" font-family="'Liberation Serif','DejaVu Serif',serif">ψ</text>
<text transform="translate(11.4 443.8) rotate(-90)" font-size="13" textLength="72" lengthAdjust="spacing">Attenuation</text><text transform="translate(11.4 363.2) rotate(-90)" font-size="13" textLength="37.4" lengthAdjust="spacing">[dB/<tspan font-family="'Liberation Serif','DejaVu Serif',serif" font-size="13.5">λ</tspan>]</text>
<text x="57.2" y="298.1" font-size="10.6" textLength="53.5" lengthAdjust="spacing">Metallized</text>
<text x="54.6" y="312.1" font-size="11">(b)</text>
<path d="M262.2 405.3H288" stroke="#111111" stroke-width="1.2" fill="none"/>
<text x="296.2" y="409.8" font-size="11.5">:</text>
<text x="306.2" y="409.8" font-size="11.5">0.4</text>
<path d="M262.2 420.8H288" stroke="#ff1a1a" stroke-width="1.2" fill="none"/>
<text x="296.2" y="425.3" font-size="11.5">:</text>
<text x="306.2" y="425.3" font-size="11.5">0.5</text>
<path d="M262.2 436.2H288" stroke="#1a1aff" stroke-width="1.2" fill="none"/>
<text x="296.2" y="440.7" font-size="11.5">:</text>
<text x="306.2" y="440.7" font-size="11.5">0.6</text>
<path d="M262.2 451.6H288" stroke="#00ee00" stroke-width="1.2" fill="none"/>
<text x="296.2" y="456.1" font-size="11.5">:</text>
<text x="306.2" y="456.1" font-size="11.5">0.7</text>
<path d="M262.2 467H288" stroke="#ff19ff" stroke-width="1.2" fill="none"/>
<text x="296.2" y="471.5" font-size="11.5">:</text>
<text x="306.2" y="471.5" font-size="11.5">0.8</text>
<text x="297.8" y="389.1" font-size="11.5"><tspan font-style="italic">h</tspan><tspan font-size="8.2" dy="2.4">LT</tspan><tspan dy="-2.4">/</tspan><tspan font-size="12" font-family="'Liberation Serif','DejaVu Serif',serif">λ</tspan></text>
</g>
<g id="plot-c">
<g clip-path="url(#cc)" fill="none" stroke-width="1.15" stroke-linejoin="round" stroke-linecap="round">
<path stroke="#111111" d="M79.6 727C79.77 726.33 80.18 724.15 80.6 723C81.02 721.85 81.56 720.85 82.12 720.12C82.69 719.38 83.29 718.9 84 718.61C84.71 718.32 85.54 718.24 86.37 718.38C87.2 718.51 88.02 718.95 88.96 719.45C89.9 719.94 90.87 720.58 92.03 721.35C93.19 722.13 94.61 723.15 95.94 724.09C97.28 725.02 98.52 725.98 100.03 726.96C101.55 727.93 103.38 729.01 105.03 729.94C106.68 730.87 108.37 731.72 109.93 732.54C111.49 733.35 112.5 733.76 114.39 734.81C116.28 735.86 118.88 737.43 121.27 738.84C123.67 740.25 126.49 741.94 128.75 743.25C131.02 744.57 133.07 745.73 134.84 746.71C136.61 747.7 137.89 748.35 139.35 749.18C140.81 750.01 142.16 750.96 143.58 751.7C145 752.43 146.43 753.03 147.85 753.58C149.28 754.13 150.72 754.57 152.15 754.98C153.57 755.39 155 755.71 156.42 756.02C157.85 756.33 159.05 756.57 160.72 756.85C162.38 757.13 164.52 757.48 166.43 757.71C168.33 757.95 171.19 758.19 172.14 758.29M240 758C241.67 757.93 246.33 757.77 250 757.6C253.67 757.43 257.83 757.18 262 756.98C266.17 756.79 271.17 756.54 275 756.44C278.83 756.33 282.33 756.33 285 756.35C287.66 756.38 289 756.36 291 756.6C293 756.84 296 757.6 297 757.8"/>
<path stroke="#ff1a1a" d="M44 750C44.5 748.5 46 744.17 47 741C48 737.83 49.02 734.17 50.02 731C51.03 727.84 52.02 724.67 53.03 722C54.03 719.34 54.89 717.18 56.07 715.03C57.25 712.87 58.77 710.56 60.09 709.08C61.42 707.61 62.56 706.78 64.04 706.18C65.52 705.58 67.5 705.32 68.97 705.48C70.44 705.64 71.54 706.21 72.88 707.13C74.21 708.04 75.63 709.5 76.98 710.98C78.34 712.46 79.65 714.34 81 716C82.35 717.66 83.75 719.42 85.07 720.94C86.39 722.45 87.6 723.74 88.93 725.07C90.26 726.41 91.69 727.81 93.05 728.95C94.41 730.08 95.64 730.8 97.09 731.87C98.53 732.94 100.03 734.13 101.74 735.38C103.45 736.64 105.28 738.2 107.36 739.4C109.44 740.61 111.88 741.73 114.22 742.64C116.56 743.55 118.99 744.2 121.39 744.85C123.8 745.51 126.38 746.05 128.63 746.55C130.89 747.05 132.88 747.35 134.9 747.84C136.92 748.34 138.84 748.94 140.76 749.54C142.69 750.13 144.53 750.91 146.43 751.42C148.33 751.92 150.24 752.26 152.14 752.57C154.05 752.88 155.95 753.12 157.86 753.3C159.76 753.49 161.43 753.63 163.57 753.69C165.72 753.76 168.33 753.8 170.71 753.71C173.09 753.62 175.46 753.3 177.85 753.16C180.23 753.01 180.49 753 185.02 752.83C189.54 752.65 200.01 752.41 205 752.1C209.99 751.79 211.65 751.47 214.98 750.96C218.32 750.46 221.69 749.78 225.02 749.1C228.35 748.42 231.64 747.64 234.97 746.88C238.31 746.11 241.69 745.21 245.03 744.49C248.37 743.77 252.52 742.99 255.01 742.57C257.5 742.15 258.45 742.17 259.95 741.96C261.46 741.75 262.68 741.58 264.02 741.32C265.36 741.06 266.67 740.64 268 740.4C269.33 740.16 270.83 740 272 739.89C273.17 739.77 274 739.73 275 739.73C276 739.73 277 739.78 278 739.89C279 740.01 280 740.18 281 740.4C282 740.62 283.01 740.87 284 741.19C285 741.52 285.98 741.92 286.98 742.33C287.99 742.75 289.22 743.31 290.05 743.69C290.87 744.08 291.27 744.25 291.93 744.63C292.6 745 293.35 745.47 294.03 745.95C294.7 746.43 295.33 746.97 295.99 747.51C296.65 748.05 297.33 748.62 298 749.2C298.67 749.78 299.33 750.4 300 751C300.67 751.6 301.33 752.22 302 752.8C302.67 753.38 303.33 753.97 304 754.5C304.67 755.03 305.34 755.54 306.01 755.99C306.67 756.44 307.5 756.9 308 757.2C308.5 757.5 308.83 757.7 309 757.8M332.5 757.2C332.83 757.03 333.83 756.6 334.5 756.2C335.17 755.8 335.92 755.26 336.5 754.81C337.09 754.36 337.55 753.93 338 753.5C338.45 753.07 339 752.42 339.2 752.2"/>
<path stroke="#1a1aff" d="M44 683C44.33 680.83 45.16 674.83 46 670C46.84 665.17 47.98 658.47 49.05 654.01C50.11 649.54 51.34 645.86 52.38 643.21C53.42 640.57 54.35 639.24 55.29 638.13C56.22 637.01 57.09 636.48 57.99 636.54C58.89 636.59 59.71 637.19 60.68 638.45C61.64 639.71 62.73 641.51 63.79 644.1C64.84 646.69 65.96 650.35 66.99 654C68.02 657.65 68.95 661.84 69.97 666.01C70.98 670.17 72.07 674.98 73.07 678.98C74.07 682.98 75 686.5 75.98 690C76.97 693.51 77.98 696.84 78.99 700.01C80 703.17 81.04 706.32 82.05 708.98C83.06 711.64 84.07 713.96 85.06 715.96C86.05 717.96 87.01 719.49 87.99 720.99C88.98 722.5 89.99 723.76 90.99 725.01C91.99 726.25 92.8 727.32 93.98 728.46C95.17 729.6 95.94 730.49 98.12 731.85C100.3 733.2 104.38 735.41 107.08 736.57C109.78 737.74 111.93 738.26 114.31 738.84C116.7 739.42 119.03 739.72 121.41 740.06C123.78 740.39 126.29 740.58 128.56 740.83C130.82 741.09 132.75 741.38 135.01 741.6C137.28 741.83 139.76 742.04 142.14 742.18C144.52 742.32 146.9 742.36 149.29 742.43C151.67 742.5 154.05 742.56 156.43 742.58C158.81 742.6 161.19 742.61 163.57 742.56C165.95 742.51 168.33 742.43 170.71 742.29C173.09 742.14 175.47 741.93 177.86 741.7C180.24 741.47 182.51 741.23 185.01 740.89C187.5 740.56 190.11 740.09 192.85 739.68C195.59 739.26 199.43 738.68 201.45 738.42C203.48 738.16 203.07 738.34 205 738.13C206.93 737.92 210.39 737.71 213.04 737.15C215.69 736.59 218.9 735.46 220.91 734.78C222.92 734.11 223.48 733.77 225.11 733.13C226.74 732.48 228.8 731.68 230.68 730.92C232.57 730.16 234.52 729.45 236.43 728.58C238.34 727.71 240.23 726.72 242.13 725.7C244.04 724.68 245.97 723.57 247.87 722.45C249.77 721.33 251.64 720.15 253.55 718.97C255.46 717.78 257.63 716.32 259.31 715.32C260.99 714.31 262.19 713.59 263.61 712.94C265.03 712.3 266.43 711.84 267.85 711.45C269.26 711.06 270.92 710.8 272.12 710.6C273.32 710.39 274.04 710.27 275.02 710.22C276 710.17 277 710.14 278 710.3C278.99 710.47 280 710.79 281 711.21C282 711.63 282.98 712.16 283.98 712.82C284.98 713.49 285.97 714.31 286.99 715.2C288.01 716.08 289.26 717.31 290.08 718.12C290.9 718.94 291.24 719.25 291.89 720.09C292.55 720.94 293.33 722.04 294.01 723.19C294.69 724.34 295.31 725.63 295.98 727.01C296.65 728.39 297.37 729.98 298.03 731.49C298.7 732.99 299.29 734.43 299.96 736.02C300.63 737.6 301.37 739.4 302.04 740.98C302.71 742.57 303.31 744.01 303.97 745.51C304.64 747.01 305.34 748.58 306.02 749.99C306.69 751.41 307.44 752.9 308.02 753.99C308.6 755.07 309.09 755.86 309.5 756.5C309.91 757.14 310.33 757.58 310.5 757.8M325.2 757.8C325.42 756.92 326.03 754.47 326.5 752.5C326.97 750.53 327.5 748.25 328 746C328.5 743.75 329 741.42 329.5 739C330 736.58 330.5 734.08 331 731.5C331.5 728.92 331.99 726.25 332.49 723.5C332.99 720.75 333.51 717.83 334.01 715C334.51 712.17 334.99 709.33 335.49 706.5C335.99 703.67 336.58 700.42 337.03 698.01C337.48 695.59 337.87 693.75 338.2 692C338.53 690.25 338.87 688.25 339 687.5"/>
<path stroke="#00ee00" d="M44 617C44.33 614.83 45.16 608.83 46 604C46.84 599.17 47.96 592.64 49.02 588C50.08 583.36 51.4 578.9 52.35 576.18C53.3 573.45 54.12 572.57 54.72 571.63C55.33 570.69 55.47 570.5 55.97 570.56C56.48 570.62 57.11 571.11 57.74 571.98C58.36 572.85 58.89 573.41 59.73 575.75C60.58 578.1 61.76 581.68 62.81 586.05C63.85 590.42 64.97 596.34 66 602C67.04 607.65 68.03 613.99 69.02 620C70.02 626 70.97 632 71.98 638C72.98 644 74.05 650.32 75.05 655.99C76.05 661.66 77 666.67 77.98 672C78.95 677.34 79.68 681.88 80.92 688.02C82.15 694.17 84.2 704.07 85.38 708.89C86.57 713.71 87.09 714.61 88.02 716.96C88.95 719.32 89.98 721.17 90.98 723.01C91.98 724.85 92.82 726.38 94.02 727.99C95.22 729.6 97.2 731.72 98.18 732.68C99.17 733.65 98.44 733.04 99.93 733.78C101.43 734.52 104.79 736.28 107.18 737.15C109.57 738.02 111.91 738.65 114.29 739C116.66 739.34 119.02 739.39 121.41 739.22C123.79 739.05 126.34 738.58 128.59 737.97C130.84 737.37 133.14 736.43 134.93 735.58C136.71 734.74 137.86 733.95 139.29 732.9C140.73 731.84 142.11 730.49 143.54 729.25C144.98 728.01 146.47 726.58 147.91 725.48C149.34 724.37 150.74 723.37 152.16 722.6C153.58 721.83 155.01 721.24 156.44 720.86C157.86 720.49 159.29 720.3 160.71 720.35C162.14 720.4 163.56 720.69 164.98 721.16C166.41 721.63 167.82 722.37 169.25 723.17C170.69 723.97 172.15 725.02 173.59 725.97C175.02 726.92 176.44 727.93 177.87 728.84C179.29 729.75 180.95 730.81 182.15 731.43C183.35 732.05 184.14 732.28 185.06 732.57C185.99 732.86 186.11 732.9 187.69 733.17C189.28 733.43 192.3 733.93 194.59 734.14C196.87 734.36 199.68 734.43 201.42 734.46C203.17 734.49 203.47 734.63 205.05 734.33C206.62 734.03 208.86 733.54 210.87 732.68C212.88 731.82 214.74 730.81 217.08 729.17C219.43 727.53 222.93 724.58 224.96 722.81C226.99 721.05 227.84 720.11 229.28 718.58C230.72 717.04 232.18 715.28 233.61 713.6C235.03 711.93 236.39 710.25 237.82 708.54C239.24 706.82 240.73 704.96 242.17 703.3C243.6 701.64 245 699.99 246.44 698.57C247.87 697.16 249.46 695.76 250.77 694.81C252.08 693.86 253.36 693.25 254.31 692.88C255.25 692.5 255.63 692.39 256.45 692.54C257.26 692.69 258.28 693.05 259.21 693.76C260.14 694.47 261.06 695.41 262.02 696.81C262.97 698.21 263.96 700.08 264.94 702.16C265.92 704.24 266.9 706.9 267.88 709.27C268.85 711.65 269.87 714.12 270.79 716.4C271.72 718.67 272.55 720.65 273.44 722.91C274.33 725.17 275.38 728.01 276.14 729.95C276.89 731.88 277.3 733.01 277.95 734.52C278.59 736.03 279.34 737.58 280.01 738.99C280.69 740.41 281.34 741.75 282 743C282.67 744.25 283.33 745.42 284 746.5C284.67 747.58 285.44 748.71 286.03 749.47C286.63 750.23 287.1 750.73 287.57 751.08C288.04 751.42 288.53 751.62 288.86 751.54C289.19 751.45 289.23 751.5 289.57 750.58C289.92 749.65 290.53 747.91 290.94 745.98C291.34 744.05 291.66 741.33 292.01 739C292.35 736.67 292.66 734.16 293 732C293.35 729.84 293.73 727.59 294.1 726.03C294.46 724.47 294.87 723.41 295.19 722.64C295.52 721.87 295.75 721.64 296.05 721.39C296.35 721.14 296.68 721.05 296.99 721.14C297.29 721.23 297.56 721.45 297.88 721.93C298.2 722.42 298.56 723.12 298.91 724.04C299.25 724.97 299.51 725.86 299.95 727.51C300.38 729.17 301.01 731.92 301.51 734C302.02 736.08 302.49 738.09 302.99 740C303.49 741.92 304.01 743.83 304.52 745.5C305.02 747.16 305.51 748.66 306.02 749.99C306.52 751.32 307.04 752.48 307.54 753.48C308.03 754.48 308.59 755.28 309 756C309.41 756.72 309.83 757.5 310 757.8M315.3 757.8C315.5 757.25 316.06 755.8 316.5 754.5C316.94 753.2 317.33 752.14 317.91 749.97C318.5 747.81 319.31 744.5 320 741.5C320.68 738.5 321.34 735.25 322.01 732C322.68 728.75 323.36 725.42 324.02 722C324.68 718.59 325.38 715 325.97 711.49C326.57 707.99 327.11 704.5 327.6 701C328.09 697.5 328.51 693.92 328.91 690.5C329.31 687.08 329.65 683.75 330 680.5C330.35 677.25 330.65 674.17 331 671C331.36 667.83 331.74 664.54 332.12 661.5C332.5 658.47 332.89 655.61 333.27 652.8C333.65 649.98 334.03 647.3 334.42 644.6C334.8 641.9 335.19 639.1 335.58 636.6C335.97 634.1 336.35 631.76 336.74 629.61C337.12 627.46 337.56 625.35 337.9 623.7C338.24 622.05 338.65 620.37 338.8 619.7"/>
<path stroke="#ff19ff" d="M44 601C44.23 599.83 44.87 595.85 45.4 594C45.93 592.15 46.67 590.76 47.17 589.88C47.67 589 47.97 588.64 48.4 588.71C48.84 588.78 49.19 589.25 49.78 590.31C50.36 591.36 51.02 592.93 51.91 595.04C52.8 597.14 54.13 600.61 55.13 602.94C56.13 605.27 56.94 606.86 57.92 609.04C58.9 611.22 60.01 613.5 61.02 616C62.02 618.49 62.97 621.01 63.96 624.01C64.96 627.02 65.96 630.34 66.97 634.01C67.98 637.67 68.99 641.83 70 646C71.01 650.16 72.01 654.66 73.02 659C74.02 663.33 75.03 667.66 76.01 672C77 676.33 77.74 679.86 78.92 685.02C80.11 690.18 81.92 698.32 83.12 702.97C84.32 707.63 85.15 710.11 86.12 712.95C87.09 715.79 87.98 717.83 88.95 720.02C89.93 722.2 90.76 724.11 91.98 726.05C93.21 727.98 95.03 730.18 96.32 731.62C97.6 733.06 97.86 733.2 99.69 734.71C101.51 736.21 104.82 739.09 107.25 740.67C109.68 742.25 111.93 743.42 114.28 744.2C116.64 744.97 118.98 745.18 121.38 745.33C123.77 745.48 126.41 745.37 128.65 745.1C130.88 744.84 133 744.42 134.79 743.74C136.58 743.05 137.92 742.08 139.38 740.98C140.85 739.88 142.16 738.3 143.58 737.14C144.99 735.98 146.45 734.92 147.88 734.02C149.31 733.12 150.73 732.33 152.15 731.74C153.58 731.14 155 730.71 156.43 730.44C157.86 730.18 159.3 730.06 160.72 730.14C162.14 730.22 163.55 730.48 164.97 730.93C166.39 731.39 167.82 732.13 169.26 732.87C170.7 733.62 172.17 734.63 173.6 735.38C175.04 736.13 176.45 736.82 177.87 737.37C179.29 737.92 180.93 738.41 182.12 738.67C183.31 738.93 184.05 738.91 184.99 738.93C185.93 738.96 186.16 738.93 187.75 738.82C189.34 738.71 192.27 738.49 194.56 738.27C196.84 738.05 199.7 737.7 201.44 737.49C203.18 737.27 203.41 737.24 205 736.98C206.59 736.72 208.99 736.36 210.99 735.94C212.99 735.52 214.67 735.09 217.01 734.44C219.34 733.78 222.72 732.75 225 732C227.28 731.26 228.79 730.7 230.7 729.97C232.61 729.24 234.54 728.44 236.45 727.61C238.36 726.79 240.25 725.96 242.15 725C244.06 724.04 245.97 723.09 247.87 721.85C249.77 720.61 251.89 719.04 253.55 717.55C255.22 716.05 256.51 714.59 257.85 712.89C259.18 711.18 260.89 708.32 261.56 707.32C262.23 706.31 261.46 707.64 261.86 706.84C262.27 706.04 263.4 703.62 263.98 702.49C264.56 701.37 265.02 700.58 265.34 700.11C265.66 699.63 265.75 699.54 265.93 699.64C266.1 699.74 266.19 699.81 266.39 700.7C266.59 701.6 266.92 703.13 267.15 705.01C267.38 706.89 267.57 709.17 267.77 712C267.98 714.83 268.19 718.33 268.39 722C268.6 725.67 268.79 730 268.99 734C269.2 738 269.44 742.66 269.64 746C269.84 749.33 270.04 752.03 270.2 754C270.36 755.97 270.53 757.17 270.6 757.8M283.5 757.8C283.62 757.17 283.92 755.63 284.2 754C284.48 752.37 284.84 750.18 285.2 748C285.56 745.82 285.86 743.27 286.35 740.95C286.84 738.62 287.08 736.97 288.16 734.06C289.24 731.14 291.67 725.86 292.82 723.44C293.98 721.02 294.3 720.87 295.07 719.54C295.85 718.21 296.65 716.83 297.47 715.49C298.3 714.15 299.16 712.83 300 711.5C300.84 710.17 301.68 708.84 302.52 707.51C303.35 706.18 304.17 704.91 304.99 703.49C305.82 702.07 306.66 700.57 307.48 698.99C308.29 697.41 309.12 695.71 309.89 694.01C310.66 692.32 311.33 690.74 312.09 688.84C312.85 686.93 313.67 684.67 314.44 682.58C315.21 680.48 315.93 678.27 316.71 676.28C317.48 674.28 318.31 672.22 319.07 670.61C319.84 668.99 320.55 667.73 321.3 666.59C322.06 665.45 322.85 664.52 323.61 663.76C324.37 663 325.01 662.51 325.86 662.02C326.71 661.53 327.75 661.11 328.7 660.84C329.65 660.58 330.71 660.46 331.57 660.42C332.42 660.39 333.08 660.47 333.84 660.64C334.61 660.8 335.47 661.13 336.14 661.41C336.81 661.7 337.42 662.11 337.86 662.34C338.3 662.57 338.62 662.72 338.77 662.8"/>
</g>
<rect x="44" y="540.5" width="295" height="217.5" fill="none" stroke="#000" stroke-width="1.45"/><path d="M60.39 540.5v4.7M60.39 758v-3.8M76.78 540.5v4.7M76.78 758v-3.8M93.17 540.5v7.6M93.17 758v-6.7M109.56 540.5v4.7M109.56 758v-3.8M125.94 540.5v4.7M125.94 758v-3.8M142.33 540.5v7.6M142.33 758v-6.7M158.72 540.5v4.7M158.72 758v-3.8M175.11 540.5v4.7M175.11 758v-3.8M191.5 540.5v7.6M191.5 758v-6.7M207.89 540.5v4.7M207.89 758v-3.8M224.28 540.5v4.7M224.28 758v-3.8M240.67 540.5v7.6M240.67 758v-6.7M257.06 540.5v4.7M257.06 758v-3.8M273.44 540.5v4.7M273.44 758v-3.8M289.83 540.5v7.6M289.83 758v-6.7M306.22 540.5v4.7M306.22 758v-3.8M322.61 540.5v4.7M322.61 758v-3.8M44 749.31h4M339 749.31h-4M44 740.62h4M339 740.62h-4M44 731.92h4M339 731.92h-4M44 723.23h6.6M339 723.23h-6.6M44 714.54h4M339 714.54h-4M44 705.85h4M339 705.85h-4M44 697.16h4M339 697.16h-4M44 688.47h6.6M339 688.47h-6.6M44 679.77h4M339 679.77h-4M44 671.08h4M339 671.08h-4M44 662.39h4M339 662.39h-4M44 653.7h6.6M339 653.7h-6.6M44 645.01h4M339 645.01h-4M44 636.32h4M339 636.32h-4M44 627.62h4M339 627.62h-4M44 618.93h6.6M339 618.93h-6.6M44 610.24h4M339 610.24h-4M44 601.55h4M339 601.55h-4M44 592.86h4M339 592.86h-4M44 584.17h6.6M339 584.17h-6.6M44 575.47h4M339 575.47h-4M44 566.78h4M339 566.78h-4M44 558.09h4M339 558.09h-4M44 549.4h6.6M339 549.4h-6.6" stroke="#000" stroke-width="1.1" fill="none"/>
<text x="38.2" y="762.4" font-size="12.4" text-anchor="end">0</text>
<text x="38.2" y="727.63" font-size="12.4" text-anchor="end">0.4</text>
<text x="38.2" y="692.87" font-size="12.4" text-anchor="end">0.8</text>
<text x="38.2" y="658.1" font-size="12.4" text-anchor="end">1.2</text>
<text x="38.2" y="623.33" font-size="12.4" text-anchor="end">1.6</text>
<text x="38.2" y="588.57" font-size="12.4" text-anchor="end">2</text>
<text x="38.2" y="553.8" font-size="12.4" text-anchor="end">2.4</text>
<text x="44" y="774.2" font-size="12.3" text-anchor="middle">0</text>
<text x="93.17" y="774.2" font-size="12.3" text-anchor="middle">30</text>
<text x="142.33" y="774.2" font-size="12.3" text-anchor="middle">60</text>
<text x="191.5" y="774.2" font-size="12.3" text-anchor="middle">90</text>
<text x="240.67" y="774.2" font-size="12.3" text-anchor="middle">120</text>
<text x="289.83" y="774.2" font-size="12.3" text-anchor="middle">150</text>
<text x="339" y="774.2" font-size="12.3" text-anchor="middle">180</text>
<text x="69.4" y="787.8" font-size="13" textLength="76.8" lengthAdjust="spacing">Propagation</text>
<text x="155.2" y="787.8" font-size="13" textLength="35.2" lengthAdjust="spacing">Angle</text>
<text x="217.6" y="787.8" font-size="13" textLength="10.8" lengthAdjust="spacing">of</text>
<text x="235.2" y="787.8" font-size="13" textLength="34.4" lengthAdjust="spacing">X-cut</text>
<text x="278.4" y="787.8" font-size="13" textLength="14.8" lengthAdjust="spacing">LT</text>
<text x="301.6" y="787.8" font-size="13" textLength="11.4" lengthAdjust="spacing">[°]</text>
<text x="199.9" y="788.4" font-size="11.4" stroke="none" font-family="'Liberation Serif','DejaVu Serif',serif">ψ</text>
<text transform="translate(15.8 715.5) rotate(-90)" font-size="13" textLength="53" lengthAdjust="spacing">Coupling</text>
<text transform="translate(15.8 651.6) rotate(-90)" font-size="13" textLength="38.2" lengthAdjust="spacing">Factor</text>
<text transform="translate(15.8 603.8) rotate(-90)" font-size="13" textLength="19.8" lengthAdjust="spacing">[%]</text>
<text x="53" y="556" font-size="11">(c)</text>
<path d="M240.7 584.4H266.4" stroke="#111111" stroke-width="1.2" fill="none"/>
<text x="275" y="588.9" font-size="11.5">:</text>
<text x="284.6" y="588.9" font-size="11.5">0.4</text>
<path d="M240.7 598.8H266.4" stroke="#ff1a1a" stroke-width="1.2" fill="none"/>
<text x="275" y="603.3" font-size="11.5">:</text>
<text x="284.6" y="603.3" font-size="11.5">0.5</text>
<path d="M240.7 613.4H266.4" stroke="#1a1aff" stroke-width="1.2" fill="none"/>
<text x="275" y="617.9" font-size="11.5">:</text>
<text x="284.6" y="617.9" font-size="11.5">0.6</text>
<path d="M240.7 627.8H266.4" stroke="#00ee00" stroke-width="1.2" fill="none"/>
<text x="275" y="632.3" font-size="11.5">:</text>
<text x="284.6" y="632.3" font-size="11.5">0.7</text>
<path d="M240.7 642.2H266.4" stroke="#ff19ff" stroke-width="1.2" fill="none"/>
<text x="275" y="646.7" font-size="11.5">:</text>
<text x="284.6" y="646.7" font-size="11.5">0.8</text>
<text x="279.3" y="570.7" font-size="11.5"><tspan font-style="italic">h</tspan><tspan font-size="8.2" dy="2.4">LT</tspan><tspan dy="-2.4">/</tspan><tspan font-size="12" font-family="'Liberation Serif','DejaVu Serif',serif">λ</tspan></text>
</g>
</svg></body></html>
